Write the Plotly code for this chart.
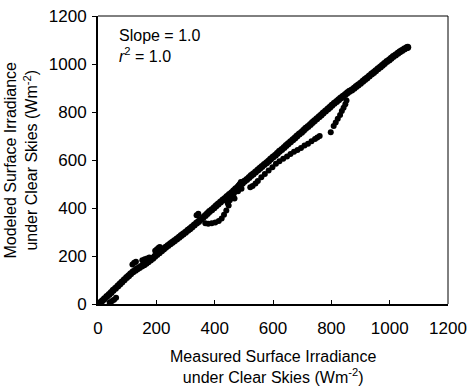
import plotly.graph_objects as go

# Main band of points close to the 1:1 line (measured, modeled)
main_x = [0, 8, 15, 22, 30, 38, 45, 52, 60, 68, 75, 82, 90, 98, 105, 112, 120, 128, 135, 142,
          150, 158, 165, 172, 180, 188, 195, 202, 210, 218, 225, 232, 240, 248, 255, 262, 270,
          278, 285, 292, 300, 308, 315, 322, 330, 338, 345, 352, 360, 368, 375, 382, 390, 398,
          405, 412, 420, 428, 435, 442, 450, 458, 465, 472, 480, 488, 495, 502, 510, 518, 525,
          532, 540, 548, 555, 562, 570, 578, 585, 592, 600, 608, 615, 622, 630, 638, 645, 652,
          660, 668, 675, 682, 690, 698, 705, 712, 720, 728, 735, 742, 750, 758, 765, 772, 780,
          788, 795, 802, 810, 818, 825, 832, 840, 848, 855, 862, 870, 878, 885, 892, 900, 908,
          915, 922, 930, 938, 945, 952, 960, 968, 975, 982, 990, 998, 1005, 1012, 1020, 1028,
          1035, 1042, 1050, 1058, 1062]
main_y = [0, 6, 14, 22, 31, 40, 48, 57, 66, 75, 83, 92, 101, 110, 118, 126, 134, 141, 147, 152,
          158, 164, 170, 176, 183, 191, 199, 206, 214, 222, 229, 236, 244, 251, 257, 264, 271,
          278, 285, 292, 299, 307, 314, 321, 329, 337, 344, 352, 360, 369, 377, 385, 393, 401,
          409, 417, 425, 433, 440, 448, 456, 464, 472, 480, 488, 496, 503, 511, 519, 527, 535,
          542, 550, 558, 566, 573, 581, 589, 596, 604, 612, 620, 628, 636, 644, 652, 660, 668,
          676, 684, 692, 700, 708, 716, 724, 732, 740, 748, 756, 764, 772, 780, 788, 796, 804,
          812, 820, 828, 836, 844, 851, 858, 866, 873, 880, 886, 892, 899, 906, 913, 920, 928,
          935, 942, 950, 958, 965, 972, 980, 988, 995, 1002, 1010, 1017, 1024, 1031, 1038, 1045,
          1051, 1056, 1062, 1068, 1070]

# Points that depart from the main band
dev_x = [40, 48, 55, 62, 118, 124, 130, 152, 160, 168, 176, 196, 202, 208, 212,
         338, 344, 368, 378, 390, 402, 414, 424, 432, 440, 448,
         445, 452, 458, 462, 466, 470, 474, 478, 482, 486, 490, 455, 468, 480, 492,
         522, 530, 540, 548, 560, 572, 585, 598, 610, 622, 635, 648, 660, 672,
         684, 696, 708, 720, 732, 744, 752, 760, 798, 808, 815, 822, 830, 836, 842, 848, 852]
dev_y = [6, 12, 18, 26, 165, 172, 176, 182, 186, 190, 194, 222, 228, 234, 238,
         370, 376, 336, 334, 336, 340, 346, 356, 372, 390, 410,
         420, 432, 445, 452, 460, 470, 478, 486, 494, 500, 508, 455, 440, 470, 480,
         486, 492, 502, 512, 528, 542, 556, 570, 584, 595, 605, 615, 625, 634,
         642, 650, 660, 668, 678, 688, 694, 700, 716, 742, 756, 772, 788, 804, 818, 832, 848]

tick_vals = [0, 200, 400, 600, 800, 1000, 1200]
tick_text = ["0", "200", "400", "600", "800", "1000", "1200"]

fig = go.Figure()
fig.add_trace(go.Scatter(x=main_x, y=main_y, mode="markers",
                         marker=dict(color="black", size=7, line=dict(width=0)),
                         showlegend=False))
fig.add_trace(go.Scatter(x=dev_x, y=dev_y, mode="markers",
                         marker=dict(color="black", size=6, line=dict(width=0)),
                         showlegend=False))

font = dict(family="Liberation Sans, Arial, sans-serif", size=16, color="black")
tfont = dict(family="Liberation Sans, Arial, sans-serif", size=17, color="black")

fig.update_layout(
    width=474, height=388,
    margin=dict(l=98, r=17, t=7, b=84),
    paper_bgcolor="white", plot_bgcolor="white",
    font=font,
    xaxis=dict(range=[0, 1200], tickvals=tick_vals, ticktext=tick_text,
               showgrid=False, zeroline=False,
               showline=True, linecolor="black", linewidth=2,
               ticks="inside", ticklen=4, tickwidth=1, tickcolor="black",
               ticklabelstandoff=8, ticklabeloverflow="allow", tickfont=tfont),
    yaxis=dict(range=[0, 1200], tickvals=tick_vals, ticktext=tick_text,
               showgrid=False, zeroline=False,
               showline=True, linecolor="black", linewidth=2,
               ticks="outside", ticklen=4, tickwidth=1, tickcolor="black",
               ticklabelstandoff=2, ticklabeloverflow="allow", tickfont=tfont),
    shapes=[dict(type="line", xref="paper", yref="paper", x0=0, x1=1, y0=1, y1=1,
                 line=dict(color="black", width=1)),
            dict(type="line", xref="paper", yref="paper", x0=1, x1=1, y0=0, y1=1,
                 line=dict(color="black", width=1))],
    annotations=[
        dict(text="Slope = 1.0<br><i>r</i><sup>2</sup> = 1.0", xref="paper", yref="paper",
             x=0.053, y=0.897, xanchor="left", yanchor="middle", align="left",
             showarrow=False, font=font),
        dict(text="Measured Surface Irradiance<br>under Clear Skies (Wm<sup>-2</sup>)",
             xref="paper", yref="paper", x=0.5, y=-0.219, xanchor="center", yanchor="middle",
             showarrow=False, font=font),
        dict(text="Modeled Surface Irradiance<br>under Clear Skies (Wm<sup>-2</sup>)",
             xref="paper", yref="paper", x=-0.22, y=0.498, xanchor="center", yanchor="middle",
             textangle=-90, showarrow=False, font=font),
    ],
)

fig.write_html("out.html", config={"displayModeBar": False},
               post_script="document.body.style.margin='0px';")
